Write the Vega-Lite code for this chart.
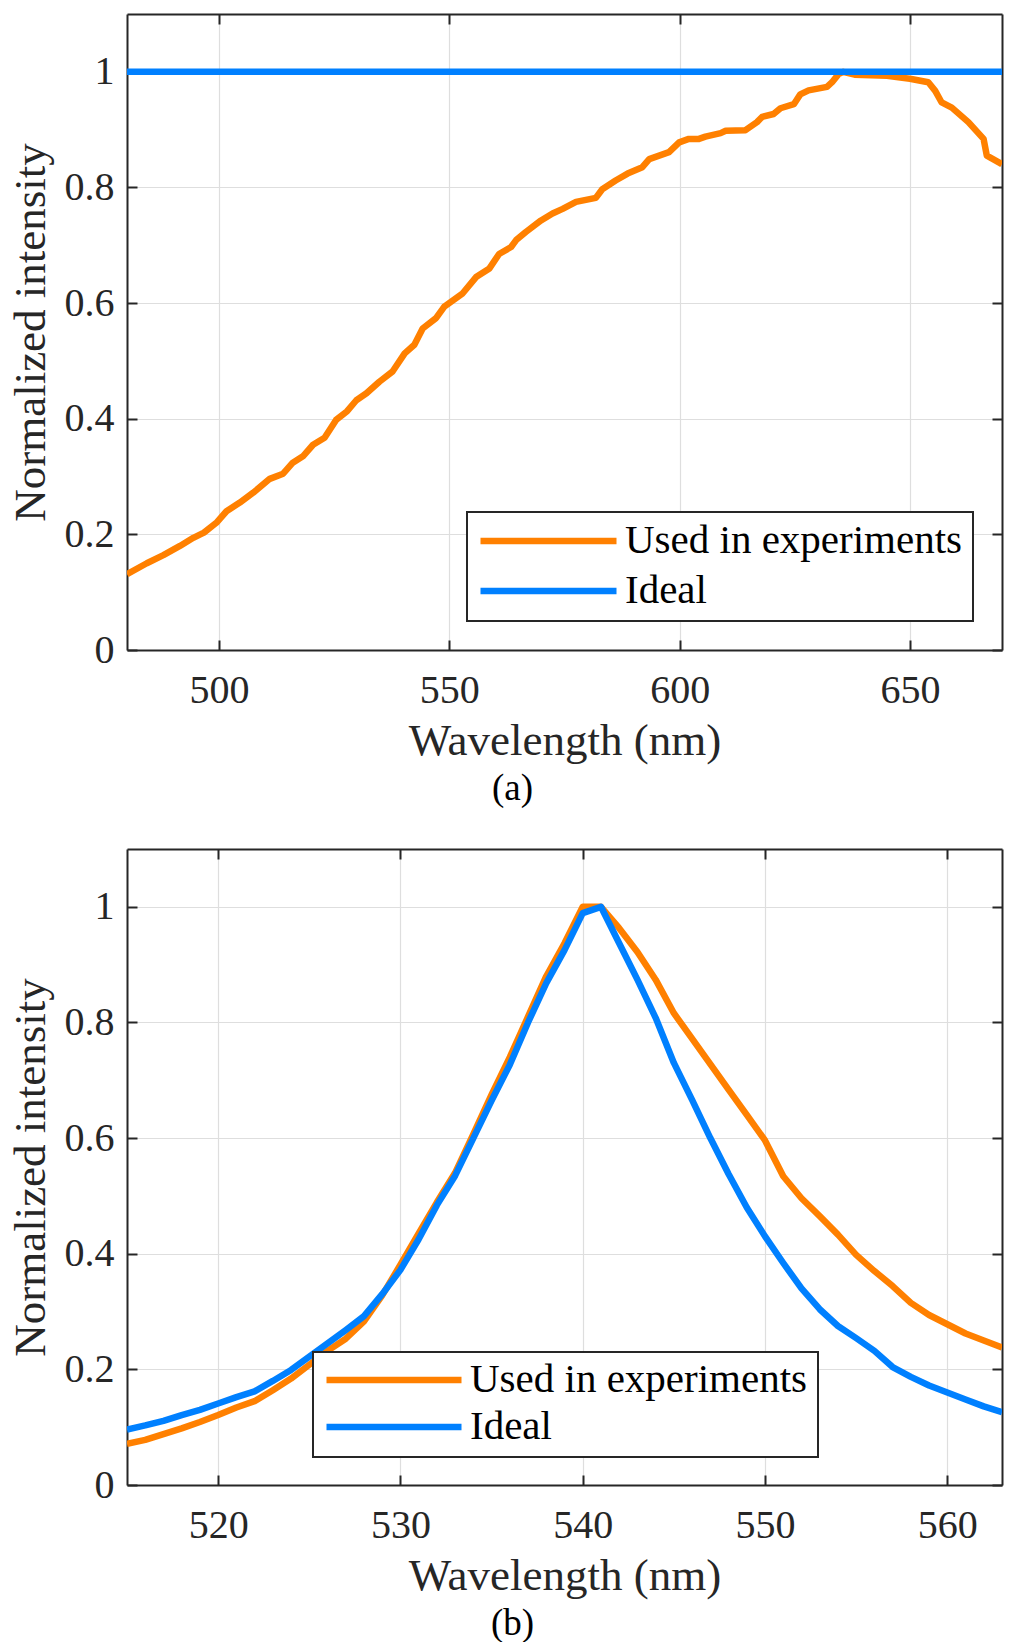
{
  "$schema": "https://vega.github.io/schema/vega-lite/v6.json",
  "background": "white",
  "padding": {"left": 8, "top": 13, "right": 10, "bottom": 0},
  "config": {
    "font": "Liberation Serif",
    "view": {"stroke": null},
    "axis": {
      "domainColor": "#262626", "domainWidth": 2,
      "tickColor": "#262626", "tickWidth": 2, "tickSize": -10,
      "labelFont": "Liberation Serif", "labelFontSize": 40, "labelColor": "#262626",
      "titleFont": "Liberation Serif", "titleFontSize": 45, "titleFontWeight": "normal", "titleColor": "#262626",
      "gridColor": "#dedede", "gridWidth": 1.2
    },
    "legend": {"strokeWidth": 2}
  },
  "datasets": {
    "a_used": [
      {"wavelength": 480, "intensity": 0.131, "series": "Used in experiments"},
      {"wavelength": 484.3, "intensity": 0.150, "series": "Used in experiments"},
      {"wavelength": 487.9, "intensity": 0.164, "series": "Used in experiments"},
      {"wavelength": 491.5, "intensity": 0.180, "series": "Used in experiments"},
      {"wavelength": 494.4, "intensity": 0.194, "series": "Used in experiments"},
      {"wavelength": 496.7, "intensity": 0.203, "series": "Used in experiments"},
      {"wavelength": 499.4, "intensity": 0.220, "series": "Used in experiments"},
      {"wavelength": 501.6, "intensity": 0.240, "series": "Used in experiments"},
      {"wavelength": 504.5, "intensity": 0.255, "series": "Used in experiments"},
      {"wavelength": 507.4, "intensity": 0.272, "series": "Used in experiments"},
      {"wavelength": 511.0, "intensity": 0.296, "series": "Used in experiments"},
      {"wavelength": 513.9, "intensity": 0.305, "series": "Used in experiments"},
      {"wavelength": 516.0, "intensity": 0.324, "series": "Used in experiments"},
      {"wavelength": 518.2, "intensity": 0.335, "series": "Used in experiments"},
      {"wavelength": 520.4, "intensity": 0.355, "series": "Used in experiments"},
      {"wavelength": 522.9, "intensity": 0.367, "series": "Used in experiments"},
      {"wavelength": 525.4, "intensity": 0.398, "series": "Used in experiments"},
      {"wavelength": 527.8, "intensity": 0.413, "series": "Used in experiments"},
      {"wavelength": 529.8, "intensity": 0.432, "series": "Used in experiments"},
      {"wavelength": 532.0, "intensity": 0.444, "series": "Used in experiments"},
      {"wavelength": 534.8, "intensity": 0.464, "series": "Used in experiments"},
      {"wavelength": 537.7, "intensity": 0.482, "series": "Used in experiments"},
      {"wavelength": 540.3, "intensity": 0.513, "series": "Used in experiments"},
      {"wavelength": 542.4, "intensity": 0.528, "series": "Used in experiments"},
      {"wavelength": 544.2, "intensity": 0.556, "series": "Used in experiments"},
      {"wavelength": 547.1, "intensity": 0.574, "series": "Used in experiments"},
      {"wavelength": 548.9, "intensity": 0.594, "series": "Used in experiments"},
      {"wavelength": 552.9, "intensity": 0.617, "series": "Used in experiments"},
      {"wavelength": 555.8, "intensity": 0.645, "series": "Used in experiments"},
      {"wavelength": 558.7, "intensity": 0.660, "series": "Used in experiments"},
      {"wavelength": 560.8, "intensity": 0.685, "series": "Used in experiments"},
      {"wavelength": 563.4, "intensity": 0.697, "series": "Used in experiments"},
      {"wavelength": 564.5, "intensity": 0.709, "series": "Used in experiments"},
      {"wavelength": 566.6, "intensity": 0.723, "series": "Used in experiments"},
      {"wavelength": 569.9, "intensity": 0.743, "series": "Used in experiments"},
      {"wavelength": 572.4, "intensity": 0.755, "series": "Used in experiments"},
      {"wavelength": 574.6, "intensity": 0.763, "series": "Used in experiments"},
      {"wavelength": 577.5, "intensity": 0.775, "series": "Used in experiments"},
      {"wavelength": 581.8, "intensity": 0.782, "series": "Used in experiments"},
      {"wavelength": 583.2, "intensity": 0.797, "series": "Used in experiments"},
      {"wavelength": 586.1, "intensity": 0.812, "series": "Used in experiments"},
      {"wavelength": 588.7, "intensity": 0.824, "series": "Used in experiments"},
      {"wavelength": 591.9, "intensity": 0.835, "series": "Used in experiments"},
      {"wavelength": 593.4, "intensity": 0.849, "series": "Used in experiments"},
      {"wavelength": 597.7, "intensity": 0.861, "series": "Used in experiments"},
      {"wavelength": 599.9, "intensity": 0.878, "series": "Used in experiments"},
      {"wavelength": 602.0, "intensity": 0.884, "series": "Used in experiments"},
      {"wavelength": 604.2, "intensity": 0.884, "series": "Used in experiments"},
      {"wavelength": 605.6, "intensity": 0.888, "series": "Used in experiments"},
      {"wavelength": 608.9, "intensity": 0.894, "series": "Used in experiments"},
      {"wavelength": 610.0, "intensity": 0.898, "series": "Used in experiments"},
      {"wavelength": 614.3, "intensity": 0.899, "series": "Used in experiments"},
      {"wavelength": 616.8, "intensity": 0.913, "series": "Used in experiments"},
      {"wavelength": 617.9, "intensity": 0.922, "series": "Used in experiments"},
      {"wavelength": 620.4, "intensity": 0.927, "series": "Used in experiments"},
      {"wavelength": 621.9, "intensity": 0.937, "series": "Used in experiments"},
      {"wavelength": 624.8, "intensity": 0.944, "series": "Used in experiments"},
      {"wavelength": 626.2, "intensity": 0.961, "series": "Used in experiments"},
      {"wavelength": 628.0, "intensity": 0.968, "series": "Used in experiments"},
      {"wavelength": 632.0, "intensity": 0.974, "series": "Used in experiments"},
      {"wavelength": 633.1, "intensity": 0.982, "series": "Used in experiments"},
      {"wavelength": 634.5, "intensity": 0.996, "series": "Used in experiments"},
      {"wavelength": 635.5, "intensity": 1.0, "series": "Used in experiments"},
      {"wavelength": 638.0, "intensity": 0.995, "series": "Used in experiments"},
      {"wavelength": 645.0, "intensity": 0.993, "series": "Used in experiments"},
      {"wavelength": 650.0, "intensity": 0.988, "series": "Used in experiments"},
      {"wavelength": 654.0, "intensity": 0.982, "series": "Used in experiments"},
      {"wavelength": 655.5, "intensity": 0.967, "series": "Used in experiments"},
      {"wavelength": 656.9, "intensity": 0.947, "series": "Used in experiments"},
      {"wavelength": 659.1, "intensity": 0.938, "series": "Used in experiments"},
      {"wavelength": 662.7, "intensity": 0.913, "series": "Used in experiments"},
      {"wavelength": 666.0, "intensity": 0.884, "series": "Used in experiments"},
      {"wavelength": 666.7, "intensity": 0.855, "series": "Used in experiments"},
      {"wavelength": 669.6, "intensity": 0.842, "series": "Used in experiments"},
      {"wavelength": 670.0, "intensity": 0.840, "series": "Used in experiments"}
    ],
    "a_ideal": [
      {"wavelength": 480, "intensity": 1, "series": "Ideal"},
      {"wavelength": 520, "intensity": 1, "series": "Ideal"},
      {"wavelength": 560, "intensity": 1, "series": "Ideal"},
      {"wavelength": 600, "intensity": 1, "series": "Ideal"},
      {"wavelength": 640, "intensity": 1, "series": "Ideal"},
      {"wavelength": 670, "intensity": 1, "series": "Ideal"}
    ],
    "b_used": [
      {"wavelength": 515, "intensity": 0.071, "series": "Used in experiments"},
      {"wavelength": 516, "intensity": 0.078, "series": "Used in experiments"},
      {"wavelength": 517, "intensity": 0.088, "series": "Used in experiments"},
      {"wavelength": 518, "intensity": 0.098, "series": "Used in experiments"},
      {"wavelength": 519, "intensity": 0.109, "series": "Used in experiments"},
      {"wavelength": 520, "intensity": 0.121, "series": "Used in experiments"},
      {"wavelength": 521, "intensity": 0.134, "series": "Used in experiments"},
      {"wavelength": 522, "intensity": 0.145, "series": "Used in experiments"},
      {"wavelength": 523, "intensity": 0.164, "series": "Used in experiments"},
      {"wavelength": 524, "intensity": 0.184, "series": "Used in experiments"},
      {"wavelength": 525, "intensity": 0.208, "series": "Used in experiments"},
      {"wavelength": 526, "intensity": 0.232, "series": "Used in experiments"},
      {"wavelength": 527, "intensity": 0.253, "series": "Used in experiments"},
      {"wavelength": 528, "intensity": 0.283, "series": "Used in experiments"},
      {"wavelength": 529, "intensity": 0.328, "series": "Used in experiments"},
      {"wavelength": 530, "intensity": 0.381, "series": "Used in experiments"},
      {"wavelength": 531, "intensity": 0.435, "series": "Used in experiments"},
      {"wavelength": 532, "intensity": 0.489, "series": "Used in experiments"},
      {"wavelength": 533, "intensity": 0.540, "series": "Used in experiments"},
      {"wavelength": 534, "intensity": 0.607, "series": "Used in experiments"},
      {"wavelength": 535, "intensity": 0.675, "series": "Used in experiments"},
      {"wavelength": 536, "intensity": 0.740, "series": "Used in experiments"},
      {"wavelength": 537, "intensity": 0.810, "series": "Used in experiments"},
      {"wavelength": 538, "intensity": 0.880, "series": "Used in experiments"},
      {"wavelength": 539, "intensity": 0.937, "series": "Used in experiments"},
      {"wavelength": 540, "intensity": 1.0, "series": "Used in experiments"},
      {"wavelength": 541, "intensity": 1.0, "series": "Used in experiments"},
      {"wavelength": 542, "intensity": 0.963, "series": "Used in experiments"},
      {"wavelength": 543, "intensity": 0.922, "series": "Used in experiments"},
      {"wavelength": 544, "intensity": 0.874, "series": "Used in experiments"},
      {"wavelength": 545, "intensity": 0.816, "series": "Used in experiments"},
      {"wavelength": 546, "intensity": 0.772, "series": "Used in experiments"},
      {"wavelength": 547, "intensity": 0.728, "series": "Used in experiments"},
      {"wavelength": 548, "intensity": 0.684, "series": "Used in experiments"},
      {"wavelength": 549, "intensity": 0.640, "series": "Used in experiments"},
      {"wavelength": 550, "intensity": 0.596, "series": "Used in experiments"},
      {"wavelength": 551, "intensity": 0.534, "series": "Used in experiments"},
      {"wavelength": 552, "intensity": 0.496, "series": "Used in experiments"},
      {"wavelength": 553, "intensity": 0.465, "series": "Used in experiments"},
      {"wavelength": 554, "intensity": 0.433, "series": "Used in experiments"},
      {"wavelength": 555, "intensity": 0.398, "series": "Used in experiments"},
      {"wavelength": 556, "intensity": 0.370, "series": "Used in experiments"},
      {"wavelength": 557, "intensity": 0.344, "series": "Used in experiments"},
      {"wavelength": 558, "intensity": 0.315, "series": "Used in experiments"},
      {"wavelength": 559, "intensity": 0.294, "series": "Used in experiments"},
      {"wavelength": 560, "intensity": 0.278, "series": "Used in experiments"},
      {"wavelength": 561, "intensity": 0.262, "series": "Used in experiments"},
      {"wavelength": 562, "intensity": 0.250, "series": "Used in experiments"},
      {"wavelength": 563, "intensity": 0.238, "series": "Used in experiments"}
    ],
    "b_ideal": [
      {"wavelength": 515, "intensity": 0.096, "series": "Ideal"},
      {"wavelength": 516, "intensity": 0.103, "series": "Ideal"},
      {"wavelength": 517, "intensity": 0.111, "series": "Ideal"},
      {"wavelength": 518, "intensity": 0.121, "series": "Ideal"},
      {"wavelength": 519, "intensity": 0.130, "series": "Ideal"},
      {"wavelength": 520, "intensity": 0.141, "series": "Ideal"},
      {"wavelength": 521, "intensity": 0.152, "series": "Ideal"},
      {"wavelength": 522, "intensity": 0.162, "series": "Ideal"},
      {"wavelength": 523, "intensity": 0.180, "series": "Ideal"},
      {"wavelength": 524, "intensity": 0.199, "series": "Ideal"},
      {"wavelength": 525, "intensity": 0.222, "series": "Ideal"},
      {"wavelength": 526, "intensity": 0.245, "series": "Ideal"},
      {"wavelength": 527, "intensity": 0.268, "series": "Ideal"},
      {"wavelength": 528, "intensity": 0.292, "series": "Ideal"},
      {"wavelength": 529, "intensity": 0.330, "series": "Ideal"},
      {"wavelength": 530, "intensity": 0.372, "series": "Ideal"},
      {"wavelength": 531, "intensity": 0.425, "series": "Ideal"},
      {"wavelength": 532, "intensity": 0.484, "series": "Ideal"},
      {"wavelength": 533, "intensity": 0.535, "series": "Ideal"},
      {"wavelength": 534, "intensity": 0.600, "series": "Ideal"},
      {"wavelength": 535, "intensity": 0.665, "series": "Ideal"},
      {"wavelength": 536, "intensity": 0.727, "series": "Ideal"},
      {"wavelength": 537, "intensity": 0.800, "series": "Ideal"},
      {"wavelength": 538, "intensity": 0.868, "series": "Ideal"},
      {"wavelength": 539, "intensity": 0.925, "series": "Ideal"},
      {"wavelength": 540, "intensity": 0.989, "series": "Ideal"},
      {"wavelength": 541, "intensity": 1.0, "series": "Ideal"},
      {"wavelength": 542, "intensity": 0.937, "series": "Ideal"},
      {"wavelength": 543, "intensity": 0.874, "series": "Ideal"},
      {"wavelength": 544, "intensity": 0.808, "series": "Ideal"},
      {"wavelength": 545, "intensity": 0.730, "series": "Ideal"},
      {"wavelength": 546, "intensity": 0.666, "series": "Ideal"},
      {"wavelength": 547, "intensity": 0.600, "series": "Ideal"},
      {"wavelength": 548, "intensity": 0.538, "series": "Ideal"},
      {"wavelength": 549, "intensity": 0.480, "series": "Ideal"},
      {"wavelength": 550, "intensity": 0.430, "series": "Ideal"},
      {"wavelength": 551, "intensity": 0.384, "series": "Ideal"},
      {"wavelength": 552, "intensity": 0.340, "series": "Ideal"},
      {"wavelength": 553, "intensity": 0.304, "series": "Ideal"},
      {"wavelength": 554, "intensity": 0.275, "series": "Ideal"},
      {"wavelength": 555, "intensity": 0.254, "series": "Ideal"},
      {"wavelength": 556, "intensity": 0.232, "series": "Ideal"},
      {"wavelength": 557, "intensity": 0.204, "series": "Ideal"},
      {"wavelength": 558, "intensity": 0.187, "series": "Ideal"},
      {"wavelength": 559, "intensity": 0.172, "series": "Ideal"},
      {"wavelength": 560, "intensity": 0.160, "series": "Ideal"},
      {"wavelength": 561, "intensity": 0.148, "series": "Ideal"},
      {"wavelength": 562, "intensity": 0.136, "series": "Ideal"},
      {"wavelength": 563, "intensity": 0.126, "series": "Ideal"}
    ]
  },
  "spacing": 41,
  "resolve": {"scale": {"color": "independent"}, "legend": {"color": "independent"}},
  "vconcat": [
    {
      "width": 875,
      "height": 636,
      "title": {"text": "(a)", "orient": "bottom", "anchor": "middle", "dx": -52, "offset": 8, "fontSize": 37, "fontWeight": "normal", "font": "Liberation Serif", "color": "black"},
      "resolve": {"axis": {"x": "independent", "y": "independent"}},
      "layer": [
        {
          "data": {"name": "a_used"},
          "mark": {"type": "line", "strokeWidth": 6.5, "strokeJoin": "round", "clip": true},
          "encoding": {
            "x": {"field": "wavelength", "type": "quantitative",
                  "scale": {"domain": [480, 670], "nice": false, "zero": false},
                  "axis": {"orient": "bottom", "title": "Wavelength (nm)", "values": [500, 550, 600, 650], "format": "d", "grid": true, "labelPadding": 30, "titlePadding": 8}},
            "y": {"field": "intensity", "type": "quantitative",
                  "scale": {"domain": [0, 1.1], "nice": false},
                  "axis": {"orient": "left", "title": "Normalized intensity", "values": [0, 0.2, 0.4, 0.6, 0.8, 1], "format": "~g", "grid": true, "labelPadding": 23, "titlePadding": 11}},
            "color": {"field": "series", "type": "nominal",
                      "scale": {"domain": ["Used in experiments", "Ideal"], "range": ["#FF8000", "#0080FF"]},
                      "legend": {"title": null, "orient": "none", "legendX": 340, "legendY": 498,
                                 "symbolType": "stroke", "symbolSize": 18496, "symbolStrokeWidth": 6.5,
                                 "labelFont": "Liberation Serif", "labelFontSize": 41, "labelColor": "black", "labelLimit": 600, "labelOffset": 5,
                                 "padding": 10, "rowPadding": 9, "clipHeight": 38,
                                 "fillColor": "white", "strokeColor": "#262626", "cornerRadius": 0}}
          }
        },
        {
          "data": {"name": "a_ideal"},
          "mark": {"type": "line", "strokeWidth": 6.5, "clip": true},
          "encoding": {
            "x": {"field": "wavelength", "type": "quantitative",
                  "scale": {"domain": [480, 670], "nice": false, "zero": false},
                  "axis": {"orient": "top", "title": null, "values": [500, 550, 600, 650], "labels": false, "grid": false}},
            "y": {"field": "intensity", "type": "quantitative",
                  "scale": {"domain": [0, 1.1], "nice": false},
                  "axis": {"orient": "right", "title": null, "values": [0, 0.2, 0.4, 0.6, 0.8, 1], "labels": false, "grid": false}},
            "color": {"field": "series", "type": "nominal",
                      "scale": {"domain": ["Used in experiments", "Ideal"], "range": ["#FF8000", "#0080FF"]}}
          }
        }
      ]
    },
    {
      "width": 875,
      "height": 636,
      "title": {"text": "(b)", "orient": "bottom", "anchor": "middle", "dx": -52, "offset": 8, "fontSize": 37, "fontWeight": "normal", "font": "Liberation Serif", "color": "black"},
      "resolve": {"axis": {"x": "independent", "y": "independent"}},
      "layer": [
        {
          "data": {"name": "b_used"},
          "mark": {"type": "line", "strokeWidth": 6.5, "strokeJoin": "round", "clip": true},
          "encoding": {
            "x": {"field": "wavelength", "type": "quantitative",
                  "scale": {"domain": [515, 563], "nice": false, "zero": false},
                  "axis": {"orient": "bottom", "title": "Wavelength (nm)", "values": [520, 530, 540, 550, 560], "format": "d", "grid": true, "labelPadding": 30, "titlePadding": 8}},
            "y": {"field": "intensity", "type": "quantitative",
                  "scale": {"domain": [0, 1.1], "nice": false},
                  "axis": {"orient": "left", "title": "Normalized intensity", "values": [0, 0.2, 0.4, 0.6, 0.8, 1], "format": "~g", "grid": true, "labelPadding": 23, "titlePadding": 11}},
            "color": {"field": "series", "type": "nominal",
                      "scale": {"domain": ["Used in experiments", "Ideal"], "range": ["#FF8000", "#0080FF"]},
                      "legend": {"title": null, "orient": "none", "legendX": 186, "legendY": 503,
                                 "symbolType": "stroke", "symbolSize": 18225, "symbolStrokeWidth": 6.5,
                                 "labelFont": "Liberation Serif", "labelFontSize": 41, "labelColor": "black", "labelLimit": 600, "labelOffset": 5,
                                 "padding": 10, "rowPadding": 6, "clipHeight": 36,
                                 "fillColor": "white", "strokeColor": "#262626", "cornerRadius": 0}}
          }
        },
        {
          "data": {"name": "b_ideal"},
          "mark": {"type": "line", "strokeWidth": 6.5, "strokeJoin": "round", "clip": true},
          "encoding": {
            "x": {"field": "wavelength", "type": "quantitative",
                  "scale": {"domain": [515, 563], "nice": false, "zero": false},
                  "axis": {"orient": "top", "title": null, "values": [520, 530, 540, 550, 560], "labels": false, "grid": false}},
            "y": {"field": "intensity", "type": "quantitative",
                  "scale": {"domain": [0, 1.1], "nice": false},
                  "axis": {"orient": "right", "title": null, "values": [0, 0.2, 0.4, 0.6, 0.8, 1], "labels": false, "grid": false}},
            "color": {"field": "series", "type": "nominal",
                      "scale": {"domain": ["Used in experiments", "Ideal"], "range": ["#FF8000", "#0080FF"]}}
          }
        }
      ]
    }
  ]
}
